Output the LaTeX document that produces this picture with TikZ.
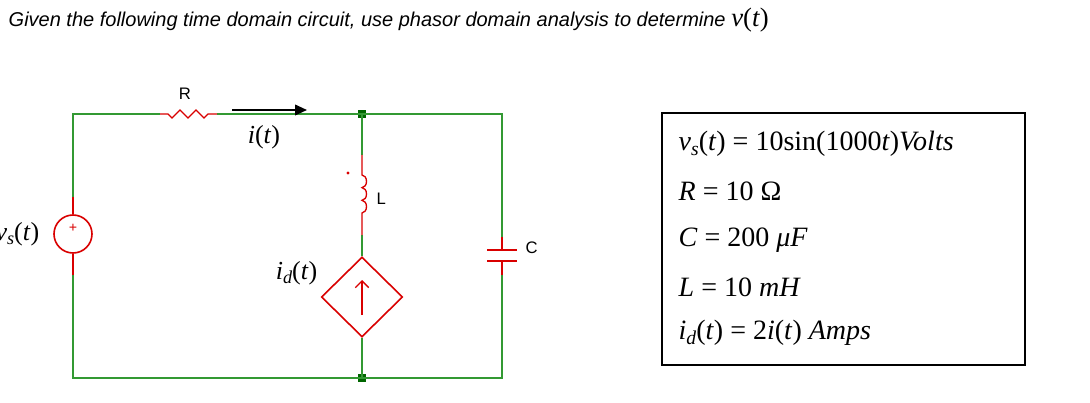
\documentclass[tikz,border=0pt]{standalone}
\usepackage{fontspec}
\setmainfont{Liberation Serif}
\newfontfamily\sansf{Liberation Sans}
\usetikzlibrary{shapes.geometric,arrows.meta}
\newcommand{\sbs}[1]{\raisebox{-0.35ex}{\fontsize{0.7em}{1em}\selectfont #1}}
\begin{document}
\begin{tikzpicture}[x=0.75pt,y=-0.75pt,
  wire/.style={draw=green!50!black!80,line width=1.2pt},
  comp/.style={draw=red!85!black,line width=1.2pt},
  dotn/.style={fill=green!40!black,inner sep=0pt,minimum size=6pt},
  lab/.style={font=\sansf\fontsize{12.5}{14}\selectfont},
  mt/.style={font=\fontsize{19.5}{22}\selectfont},
  bt/.style={font=\fontsize{21}{24}\selectfont,anchor=west}]
\useasboundingbox (0,0) rectangle (1090,403);
\fill[white] (0,0) rectangle (1090,403);
\node[anchor=west,font=\sansf\itshape\fontsize{15}{18}\selectfont] (title) at (4,20) {Given the following time domain circuit, use phasor domain analysis to determine \textrm{\upshape\fontsize{20}{20}\selectfont\textit{v}(\textit{t})}};
% nodes
\coordinate (tl) at (73,114);
\coordinate (bl) at (73,378);
\coordinate (tr) at (502,114);
\coordinate (br) at (502,378);
\node[dotn] (tm) at (362,114) {};
\node[dotn] (bm) at (362,378) {};
\node[circle,comp,minimum size=28.5pt,inner sep=0pt] (vs) at (73,234) {};
\node[text=red!85!black,font=\bfseries\fontsize{11}{11}\selectfont] at (73,228) {+};
\coordinate (r1) at (160,114); \coordinate (r2) at (217,114);
\coordinate (l1) at (362,155); \coordinate (l2) at (362,235);
\node[diamond,comp,minimum width=61pt,minimum height=60pt,inner sep=0pt] (dep) at (362,297) {};
\coordinate (c1) at (502,250); \coordinate (c2) at (502,261);
% wires
\draw[wire] (73,197) -- (tl) -- (r1);
\draw[wire] (r2) -- (tm.center) -- (tr) -- (502,237);
\draw[wire] (502,275) -- (br) -- (bm.center) -- (bl) -- (73,275);
\draw[wire] (tm.center) -- (l1);
\draw[wire] (l2) -- (dep.north);
\draw[wire] (dep.south) -- (bm.center);
\draw[comp] (vs.north) -- (73,197);
\draw[comp] (vs.south) -- (73,275);
% resistor
\draw[comp,line width=1pt] (r1) -- ++(8,0) -- ++(4,4) -- ++(8,-8) -- ++(8,8) -- ++(8,-8) -- ++(8,8) -- ++(4,-4) -- (r2);
% inductor
\draw[comp,line width=1pt] (l1) -- (362,175) arc(-90:90:4.5 and 6.33) arc(-90:90:4.5 and 6.33) arc(-90:90:4.5 and 6.33) -- (l2);
\fill[red!85!black] (348,173) circle (1.2pt);
\node[lab,anchor=west] at (372,199) {L};
% cap
\draw[comp] (502,237) -- (c1) (487,250) -- (517,250) (487,261) -- (517,261) (c2) -- (502,275);
\node[lab,anchor=west] at (521,248) {C};
\node[lab] at (185,94) {R};
% dep arrow
\draw[comp,line width=1pt,-{Straight Barb[length=5pt]}] (362,315) -- (362,280);
% current arrow
\draw[line width=1.3pt,-{Triangle[length=9pt,width=8pt]}] (232,110) -- (307,110);
\node[mt] at (264,137) {\textit{i}(\textit{t})};
\node[mt,anchor=east] at (322,273) {\textit{i\sbs{d}}(\textit{t})};
\node[mt,anchor=east] at (44,234) {\textit{v\sbs{s}}(\textit{t})};
% box
\draw[line width=1pt] (662,113) rectangle (1025,365);
\node[bt] at (674,144) {\textit{v\sbs{s}}(\textit{t}) = 10sin(1000\textit{t})\textit{Volts}};
\node[bt] at (674,191) {\textit{R} = 10 Ω};
\node[bt] at (674,240) {\textit{C} = 200 \textit{μF}};
\node[bt] at (674,287) {\textit{L} = 10 \textit{mH}};
\node[bt] at (674,333) {\textit{i\sbs{d}}(\textit{t}) = 2\textit{i}(\textit{t}) \textit{Amps}};
\end{tikzpicture}
\end{document}
